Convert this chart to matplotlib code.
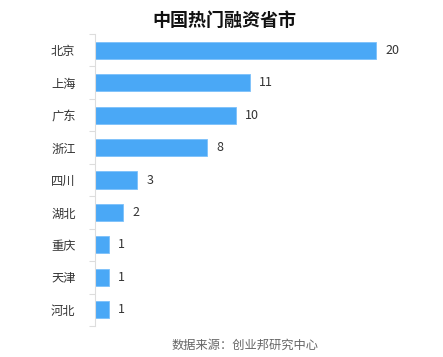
import numpy as np
import matplotlib
matplotlib.use('Agg')
from matplotlib import pyplot as plt

plt.rcParams['font.family'] = ['Noto Sans CJK SC', 'DejaVu Sans']

provinces = ['北京', '上海', '广东', '浙江', '四川', '湖北', '重庆', '天津', '河北']
counts = [20, 11, 10, 8, 3, 2, 1, 1, 1]
title = '中国热门融资省市'
source = '数据来源：创业邦研究中心'

fig = plt.figure(figsize=(4.43, 3.57), dpi=100)
ax = fig.add_axes([95 / 443, 1 - 326 / 357, 325 / 443, 292 / 357])

y = np.arange(len(provinces))
ax.barh(y, counts, height=0.53, color='#4aa8f6', edgecolor='#7cc0fa',
        linewidth=0.6)

for yi, v in zip(y, counts):
    ax.annotate(str(v), (v, yi), xytext=(6.5, 0), textcoords='offset points',
                va='center', ha='left', fontsize=9, color='#333333')

ax.set_ylim(len(provinces) - 0.5, -0.5)
ax.set_xlim(0, 325 / 14.05)
ax.set_yticks(y)
ax.set_yticklabels(provinces, fontsize=8.8, color='#333333')
ax.set_yticks(np.arange(len(provinces) + 1) - 0.5, minor=True)
ax.tick_params(axis='y', which='major', length=0, pad=14)
ax.tick_params(axis='y', which='minor', length=4, color='#dddddd', width=0.8)
ax.set_xticks([])

for s in ['top', 'right', 'bottom']:
    ax.spines[s].set_visible(False)
ax.spines['left'].set_color('#dddddd')
ax.spines['left'].set_linewidth(0.8)

fig.text(224 / 443, 1 - 20 / 357, title, ha='center', va='center',
         fontsize=13, fontweight='bold', color='#111111')
fig.text(245 / 443, 1 - 345 / 357, source, ha='center', va='center',
         fontsize=8.8, color='#666666')

fig.savefig('out.png', dpi=100)
